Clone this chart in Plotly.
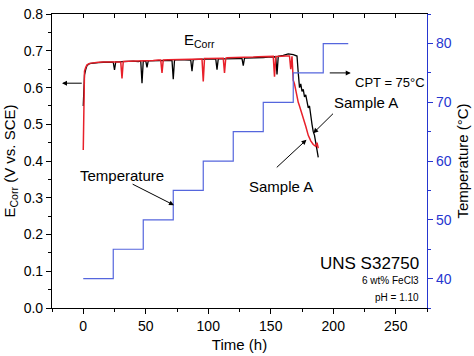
import plotly.graph_objects as go

# Temperature steps (h, °C)
temp_t = [0, 24, 48, 72, 96, 120, 144, 168, 192, 212]
temp_c = [40, 45, 50, 55, 60, 65, 70, 75, 80, 80]

# E_corr black curve (h, V vs SCE)
black_t = [0, 0.5, 1, 2, 3, 5, 8, 12, 16, 20, 24, 25, 26, 28, 32, 36, 40, 44, 46, 47, 48, 50, 51, 52,
           56, 60, 64, 68, 71, 72, 73, 76, 80, 84, 86, 87, 88, 92, 96, 100, 104, 106, 107, 108, 112,
           116, 120, 124, 127, 128, 129, 132, 136, 140, 144, 148, 152, 154, 155, 156, 160, 164, 168,
           170, 171, 172, 173, 174, 175, 176, 177, 178, 179, 180, 181, 182, 183, 184, 185, 186, 187, 188]
black_e = [0.55, 0.60, 0.635, 0.65, 0.66, 0.665, 0.667, 0.668, 0.669, 0.670, 0.669, 0.648, 0.670, 0.670,
           0.671, 0.671, 0.672, 0.671, 0.672, 0.612, 0.672, 0.673, 0.655, 0.673, 0.673, 0.674, 0.674,
           0.675, 0.674, 0.623, 0.675, 0.676, 0.676, 0.676, 0.675, 0.645, 0.676, 0.677, 0.677, 0.678,
           0.677, 0.678, 0.649, 0.678, 0.678, 0.679, 0.679, 0.679, 0.679, 0.660, 0.680, 0.680, 0.681,
           0.681, 0.682, 0.683, 0.684, 0.684, 0.636, 0.685, 0.688, 0.692, 0.690, 0.688, 0.686, 0.640,
           0.600, 0.610, 0.590, 0.595, 0.575, 0.580, 0.560, 0.545, 0.550, 0.520, 0.500, 0.480, 0.470,
           0.450, 0.430, 0.410]

# E_corr red curve
red_t = [0, 0.3, 0.6, 1, 2, 3, 5, 8, 12, 16, 20, 24, 28, 30, 31, 32, 36, 40, 44, 48, 52, 56, 60, 62, 63,
         64, 68, 72, 76, 80, 84, 88, 92, 95, 96, 97, 100, 104, 108, 112, 113, 114, 115, 120, 124, 128,
         132, 136, 140, 144, 148, 152, 153, 154, 155, 158, 162, 165, 166, 167, 168, 169, 170, 171, 172,
         173, 174, 176, 178, 180, 182, 184, 186, 187, 188]
red_e = [0.43, 0.55, 0.62, 0.645, 0.655, 0.662, 0.666, 0.668, 0.669, 0.670, 0.670, 0.671, 0.671, 0.670,
         0.625, 0.671, 0.672, 0.672, 0.673, 0.673, 0.674, 0.674, 0.675, 0.675, 0.640, 0.675, 0.676,
         0.676, 0.677, 0.677, 0.678, 0.678, 0.678, 0.678, 0.617, 0.679, 0.679, 0.680, 0.680, 0.680,
         0.640, 0.680, 0.681, 0.681, 0.682, 0.682, 0.683, 0.683, 0.684, 0.684, 0.684, 0.685, 0.630,
         0.685, 0.685, 0.686, 0.686, 0.686, 0.650, 0.685, 0.620, 0.610, 0.590, 0.575, 0.560, 0.550,
         0.540, 0.515, 0.495, 0.470, 0.455, 0.445, 0.440, 0.450, 0.435]

FONT = "Liberation Sans, Arial, sans-serif"
BLUE_AX = "#2636d0"
BLUE_LINE = "#5566dd"

fig = go.Figure()
fig.add_trace(go.Scatter(x=temp_t, y=temp_c, mode="lines", line=dict(color=BLUE_LINE, width=1.2, shape="hv"),
                         yaxis="y2", showlegend=False))
fig.add_trace(go.Scatter(x=black_t, y=black_e, mode="lines", line=dict(color="black", width=1.3),
                         showlegend=False))
fig.add_trace(go.Scatter(x=red_t, y=red_e, mode="lines", line=dict(color="#e8202a", width=1.5),
                         showlegend=False))
# invisible trace to carry the top axis
fig.add_trace(go.Scatter(x=[0], y=[0], xaxis="x2", mode="markers", marker=dict(opacity=0),
                         showlegend=False, hoverinfo="skip"))

ax_common = dict(showgrid=False, zeroline=False, showline=True, linewidth=1.2,
                 ticklabeloverflow="allow",
                 tickfont=dict(family=FONT, size=14, color="black"))

fig.update_layout(
    width=474, height=356,
    margin=dict(l=52, r=45, t=6, b=48),
    paper_bgcolor="white", plot_bgcolor="white",
    font=dict(family=FONT, color="black"),
    xaxis=dict(range=[-25, 275], dtick=50, tick0=0, ticks="outside", ticklen=5, linecolor="black",
               tickcolor="black", minor=dict(dtick=25, ticks="outside", ticklen=3, tickcolor="black"),
               title=dict(text="Time (h)", font=dict(family=FONT, size=15), standoff=6), **ax_common),
    xaxis2=dict(range=[-25, 275], overlaying="x", side="top", dtick=25, tick0=0, ticks="inside",
                ticklen=4, tickcolor="black", showticklabels=False, showgrid=False, zeroline=False,
                showline=True, linecolor="black", linewidth=1.2),
    yaxis=dict(range=[0, 0.8004], dtick=0.1, tick0=0, tickformat=".1f", ticks="outside", ticklen=5,
               linecolor="black", tickcolor="black",
               minor=dict(dtick=0.05, ticks="outside", ticklen=3, tickcolor="black"),
               title=dict(text="E<sub>Corr</sub> (V vs. SCE)", font=dict(family=FONT, size=15), standoff=4),
               **ax_common),
    yaxis2=dict(range=[35, 85.025], dtick=10, tick0=0, overlaying="y", side="right", ticks="outside",
                ticklen=5, tickcolor=BLUE_AX, linecolor=BLUE_AX, showgrid=False, zeroline=False,
                showline=True, linewidth=1.2, ticklabeloverflow="allow",
                minor=dict(dtick=5, ticks="outside", ticklen=3, tickcolor=BLUE_AX),
                tickfont=dict(family=FONT, size=14, color=BLUE_AX),
                title=dict(text="Temperature (°C)", font=dict(family=FONT, size=15, color="black"), standoff=6)),
)

arrow = dict(showarrow=True, arrowhead=2, arrowsize=1, arrowwidth=1, arrowcolor="black",
             axref="x", text="")
annos = [
    dict(x=-17, y=0.612, ax=0, ay=0.612, xref="x", yref="y", ayref="y", **arrow),
    dict(x=214, y=75, ax=196, ay=75, xref="x", yref="y2", ayref="y2", **arrow),
    dict(x=184, y=0.476, ax=201, ay=0.533, xref="x", yref="y", ayref="y", **arrow),
    dict(x=178.6, y=0.458, ax=153.6, ay=0.379, xref="x", yref="y", ayref="y", **arrow),
    dict(x=72.6, y=52.5, ax=38.3, ay=56.2, xref="x", yref="y2", ayref="y2", **arrow),
]
txt = [
    dict(x=93, y=0.728, text="E<sub>Corr</sub>", size=15, xanchor="center"),
    dict(x=216, y=0.613, text="CPT = 75°C", size=13, xanchor="left"),
    dict(x=226.5, y=0.559, text="Sample A", size=15, xanchor="center"),
    dict(x=158, y=0.331, text="Sample A", size=15, xanchor="center"),
    dict(x=31, y=0.360, text="Temperature", size=15, xanchor="center"),
    dict(x=270, y=0.122, text="UNS S32750", size=17, xanchor="right"),
    dict(x=270, y=0.074, text="6 wt% FeCl3", size=10, xanchor="right"),
    dict(x=270, y=0.029, text="pH = 1.10", size=10, xanchor="right"),
]
for t in txt:
    annos.append(dict(x=t["x"], y=t["y"], xref="x", yref="y", text=t["text"], showarrow=False,
                      xanchor=t["xanchor"], yanchor="middle",
                      font=dict(family=FONT, size=t["size"], color="black")))
fig.update_layout(annotations=annos)

fig.write_html("out.html", config={"displayModeBar": False},
               post_script="document.body.style.margin='0';document.body.style.padding='0';")
